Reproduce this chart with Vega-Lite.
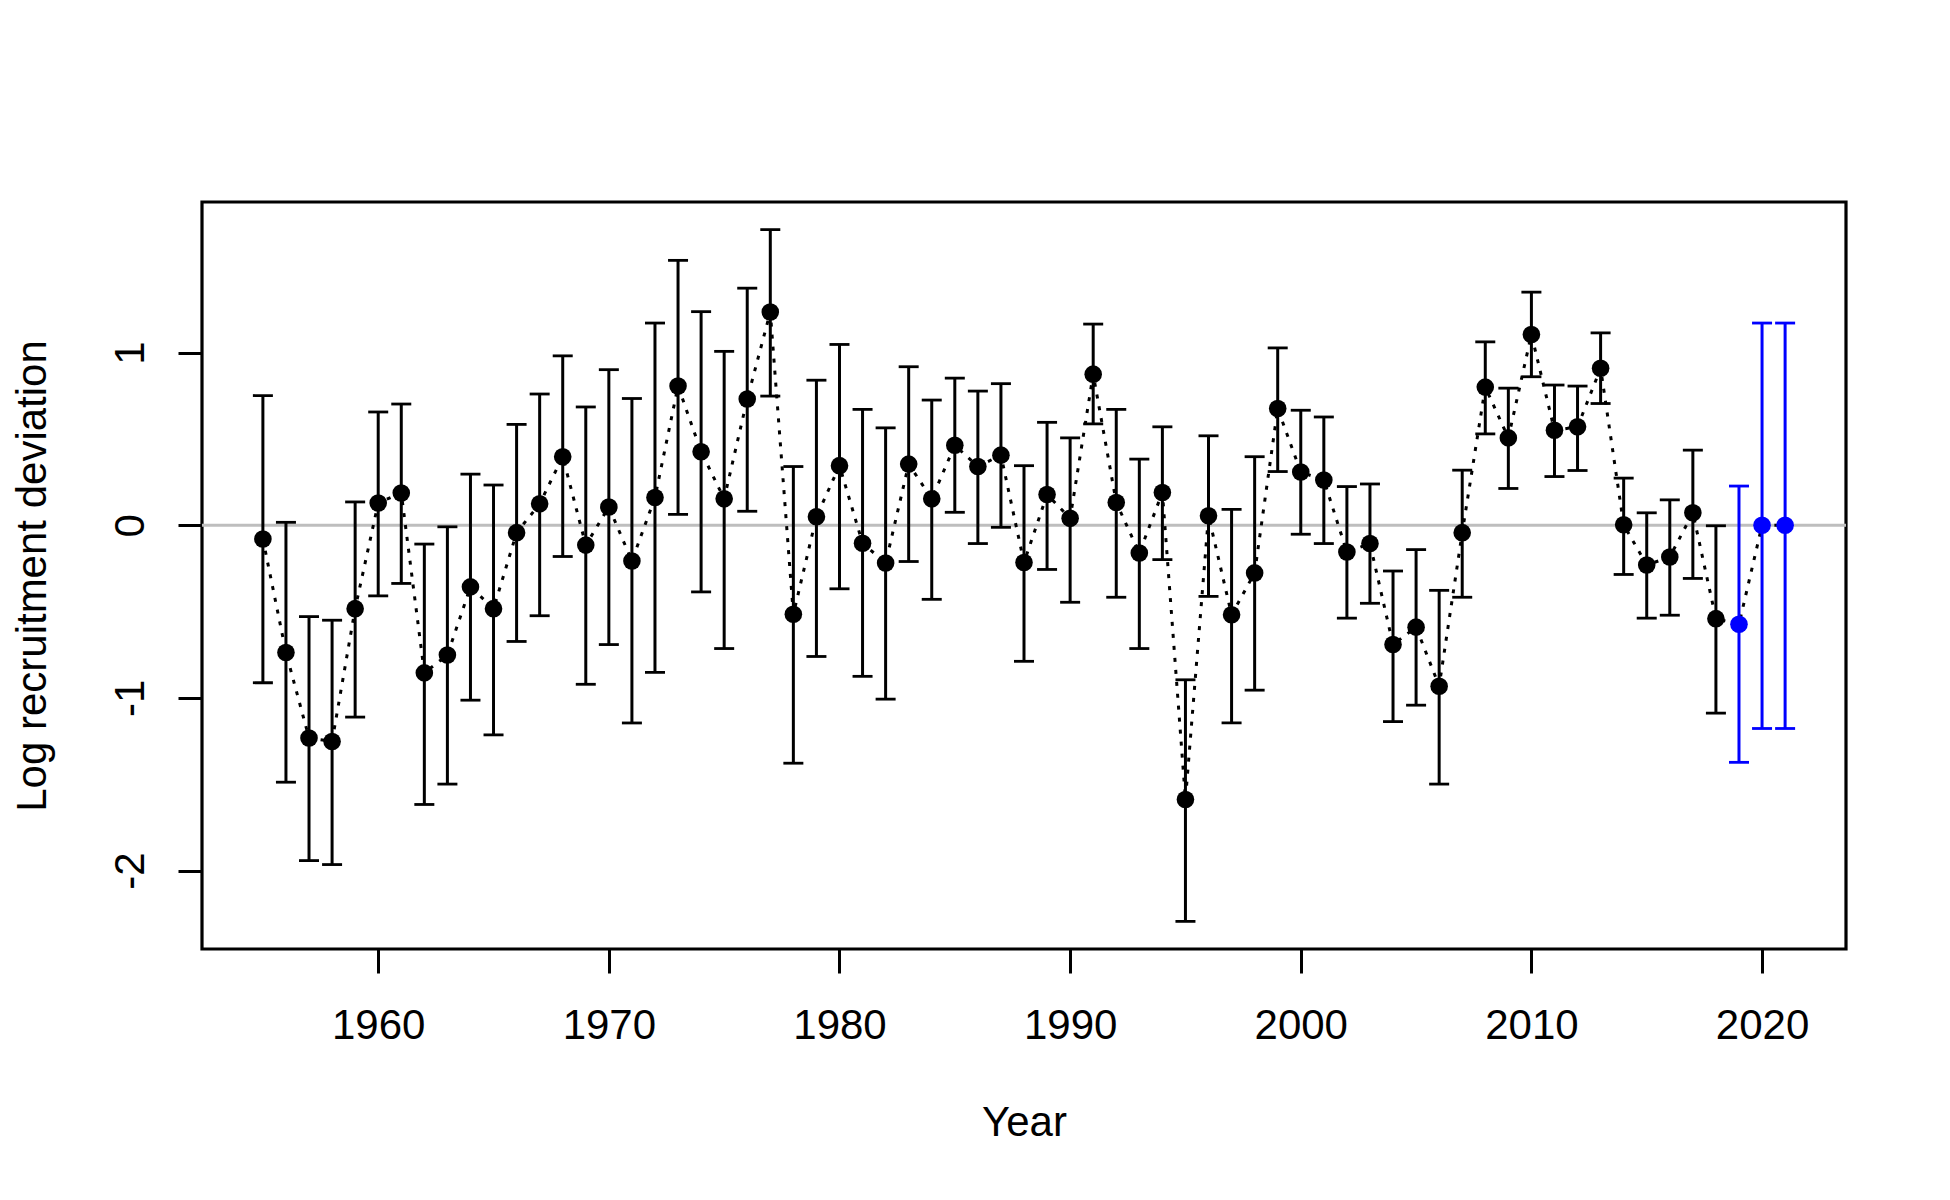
{
  "$schema": "https://vega.github.io/schema/vega-lite/v6.json",
  "width": 1644,
  "height": 747,
  "autosize": {"type": "none"},
  "padding": {"left": 202, "top": 202, "right": 104, "bottom": 251},
  "background": "white",
  "config": {
    "view": {"stroke": "black", "strokeWidth": 3.2},
    "font": "Liberation Sans",
    "axis": {
      "grid": false, "domain": false,
      "tickColor": "black", "tickWidth": 3, "tickSize": 24,
      "labelFont": "Liberation Sans", "labelFontSize": 42, "labelColor": "black",
      "titleFont": "Liberation Sans", "titleFontSize": 42, "titleFontWeight": "normal", "titleColor": "black"
    }
  },
  "data": {"values": [
    {"year": 1955, "value": -0.080, "lower": -0.912, "upper": 0.751, "group": "est"},
    {"year": 1956, "value": -0.737, "lower": -1.488, "upper": 0.017, "group": "est"},
    {"year": 1957, "value": -1.232, "lower": -1.942, "upper": -0.529, "group": "est"},
    {"year": 1958, "value": -1.252, "lower": -1.965, "upper": -0.550, "group": "est"},
    {"year": 1959, "value": -0.483, "lower": -1.111, "upper": 0.135, "group": "est"},
    {"year": 1960, "value": 0.129, "lower": -0.409, "upper": 0.656, "group": "est"},
    {"year": 1961, "value": 0.187, "lower": -0.337, "upper": 0.702, "group": "est"},
    {"year": 1962, "value": -0.855, "lower": -1.617, "upper": -0.109, "group": "est"},
    {"year": 1963, "value": -0.751, "lower": -1.499, "upper": -0.009, "group": "est"},
    {"year": 1964, "value": -0.357, "lower": -1.013, "upper": 0.296, "group": "est"},
    {"year": 1965, "value": -0.483, "lower": -1.214, "upper": 0.233, "group": "est"},
    {"year": 1966, "value": -0.043, "lower": -0.673, "upper": 0.584, "group": "est"},
    {"year": 1967, "value": 0.124, "lower": -0.524, "upper": 0.760, "group": "est"},
    {"year": 1968, "value": 0.397, "lower": -0.181, "upper": 0.981, "group": "est"},
    {"year": 1969, "value": -0.115, "lower": -0.921, "upper": 0.685, "group": "est"},
    {"year": 1970, "value": 0.106, "lower": -0.691, "upper": 0.901, "group": "est"},
    {"year": 1971, "value": -0.207, "lower": -1.145, "upper": 0.734, "group": "est"},
    {"year": 1972, "value": 0.161, "lower": -0.852, "upper": 1.171, "group": "est"},
    {"year": 1973, "value": 0.806, "lower": 0.063, "upper": 1.534, "group": "est"},
    {"year": 1974, "value": 0.426, "lower": -0.386, "upper": 1.237, "group": "est"},
    {"year": 1975, "value": 0.153, "lower": -0.714, "upper": 1.007, "group": "est"},
    {"year": 1976, "value": 0.731, "lower": 0.081, "upper": 1.373, "group": "est"},
    {"year": 1977, "value": 1.235, "lower": 0.748, "upper": 1.712, "group": "est"},
    {"year": 1978, "value": -0.515, "lower": -1.378, "upper": 0.340, "group": "est"},
    {"year": 1979, "value": 0.049, "lower": -0.760, "upper": 0.840, "group": "est"},
    {"year": 1980, "value": 0.345, "lower": -0.368, "upper": 1.047, "group": "est"},
    {"year": 1981, "value": -0.104, "lower": -0.875, "upper": 0.671, "group": "est"},
    {"year": 1982, "value": -0.219, "lower": -1.007, "upper": 0.564, "group": "est"},
    {"year": 1983, "value": 0.354, "lower": -0.210, "upper": 0.918, "group": "est"},
    {"year": 1984, "value": 0.153, "lower": -0.429, "upper": 0.725, "group": "est"},
    {"year": 1985, "value": 0.463, "lower": 0.075, "upper": 0.852, "group": "est"},
    {"year": 1986, "value": 0.340, "lower": -0.106, "upper": 0.777, "group": "est"},
    {"year": 1987, "value": 0.406, "lower": -0.012, "upper": 0.820, "group": "est"},
    {"year": 1988, "value": -0.216, "lower": -0.788, "upper": 0.345, "group": "est"},
    {"year": 1989, "value": 0.178, "lower": -0.256, "upper": 0.596, "group": "est"},
    {"year": 1990, "value": 0.040, "lower": -0.446, "upper": 0.506, "group": "est"},
    {"year": 1991, "value": 0.875, "lower": 0.587, "upper": 1.165, "group": "est"},
    {"year": 1992, "value": 0.132, "lower": -0.417, "upper": 0.671, "group": "est"},
    {"year": 1993, "value": -0.161, "lower": -0.714, "upper": 0.383, "group": "est"},
    {"year": 1994, "value": 0.190, "lower": -0.199, "upper": 0.570, "group": "est"},
    {"year": 1995, "value": -1.588, "lower": -2.294, "upper": -0.895, "group": "est"},
    {"year": 1996, "value": 0.055, "lower": -0.412, "upper": 0.518, "group": "est"},
    {"year": 1997, "value": -0.518, "lower": -1.145, "upper": 0.092, "group": "est"},
    {"year": 1998, "value": -0.276, "lower": -0.955, "upper": 0.397, "group": "est"},
    {"year": 1999, "value": 0.676, "lower": 0.311, "upper": 1.027, "group": "est"},
    {"year": 2000, "value": 0.308, "lower": -0.052, "upper": 0.666, "group": "est"},
    {"year": 2001, "value": 0.262, "lower": -0.106, "upper": 0.627, "group": "est"},
    {"year": 2002, "value": -0.155, "lower": -0.538, "upper": 0.224, "group": "est"},
    {"year": 2003, "value": -0.106, "lower": -0.452, "upper": 0.239, "group": "est"},
    {"year": 2004, "value": -0.691, "lower": -1.137, "upper": -0.265, "group": "est"},
    {"year": 2005, "value": -0.590, "lower": -1.042, "upper": -0.141, "group": "est"},
    {"year": 2006, "value": -0.932, "lower": -1.499, "upper": -0.377, "group": "est"},
    {"year": 2007, "value": -0.043, "lower": -0.417, "upper": 0.319, "group": "est"},
    {"year": 2008, "value": 0.800, "lower": 0.529, "upper": 1.062, "group": "est"},
    {"year": 2009, "value": 0.506, "lower": 0.213, "upper": 0.794, "group": "est"},
    {"year": 2010, "value": 1.105, "lower": 0.860, "upper": 1.350, "group": "est"},
    {"year": 2011, "value": 0.550, "lower": 0.282, "upper": 0.812, "group": "est"},
    {"year": 2012, "value": 0.570, "lower": 0.317, "upper": 0.806, "group": "est"},
    {"year": 2013, "value": 0.909, "lower": 0.705, "upper": 1.114, "group": "est"},
    {"year": 2014, "value": 0.003, "lower": -0.285, "upper": 0.273, "group": "est"},
    {"year": 2015, "value": -0.230, "lower": -0.538, "upper": 0.072, "group": "est"},
    {"year": 2016, "value": -0.184, "lower": -0.521, "upper": 0.147, "group": "est"},
    {"year": 2017, "value": 0.072, "lower": -0.308, "upper": 0.435, "group": "est"},
    {"year": 2018, "value": -0.541, "lower": -1.088, "upper": -0.003, "group": "est"},
    {"year": 2019, "value": -0.573, "lower": -1.373, "upper": 0.227, "group": "proj"},
    {"year": 2020, "value": 0.0, "lower": -1.177, "upper": 1.171, "group": "proj"},
    {"year": 2021, "value": 0.0, "lower": -1.177, "upper": 1.171, "group": "proj"}
  ]},
  "layer": [
    {
      "data": {"values": [{"ref": 0}]},
      "mark": {"type": "rule", "color": "#BEBEBE", "strokeWidth": 3},
      "encoding": {
        "y": {
          "field": "ref", "type": "quantitative",
          "scale": {"domain": [-2.454, 1.872], "nice": false, "zero": false},
          "title": "Log recruitment deviation",
          "axis": {
            "title": "Log recruitment deviation", "values": [-2, -1, 0, 1],
            "labelExpr": "'' + datum.value",
            "labelAngle": 270, "labelAlign": "center", "labelBaseline": "alphabetic", "labelPadding": 35,
            "labelFlush": false, "labelOverlap": false,
            "titleAngle": 270, "titleX": -157, "titleY": 373.5, "titleAlign": "center", "titleBaseline": "alphabetic"
          }
        }
      }
    },
    {
      "mark": {"type": "line", "color": "black", "strokeWidth": 3, "strokeDash": [4, 8]},
      "encoding": {
        "x": {
          "field": "year", "type": "quantitative",
          "scale": {"domain": [1952.36, 2023.64], "nice": false, "zero": false},
          "title": "Year",
          "axis": {
            "title": "Year", "values": [1960, 1970, 1980, 1990, 2000, 2010, 2020], "format": "d",
            "labelAlign": "center", "labelBaseline": "alphabetic", "labelPadding": 65,
            "labelFlush": false, "labelOverlap": false,
            "titleX": 822, "titleY": 186, "titleAlign": "center", "titleBaseline": "alphabetic"
          }
        },
        "y": {"field": "value", "type": "quantitative", "title": "Log recruitment deviation"}
      }
    },
    {
      "mark": {"type": "rule", "strokeWidth": 3},
      "encoding": {
        "x": {"field": "year", "type": "quantitative", "title": "Year"},
        "y": {"field": "lower", "type": "quantitative", "title": "Log recruitment deviation"},
        "y2": {"field": "upper"},
        "color": {"field": "group", "type": "nominal", "scale": {"domain": ["est", "proj"], "range": ["#000000", "#0000FF"]}, "legend": null}
      }
    },
    {
      "mark": {"type": "tick", "orient": "horizontal", "size": 20, "thickness": 2.8, "opacity": 1},
      "encoding": {
        "x": {"field": "year", "type": "quantitative", "title": "Year"},
        "y": {"field": "upper", "type": "quantitative", "title": "Log recruitment deviation"},
        "color": {"field": "group", "type": "nominal", "legend": null}
      }
    },
    {
      "mark": {"type": "tick", "orient": "horizontal", "size": 20, "thickness": 2.8, "opacity": 1},
      "encoding": {
        "x": {"field": "year", "type": "quantitative", "title": "Year"},
        "y": {"field": "lower", "type": "quantitative", "title": "Log recruitment deviation"},
        "color": {"field": "group", "type": "nominal", "legend": null}
      }
    },
    {
      "mark": {"type": "point", "shape": "circle", "filled": true, "size": 310, "opacity": 1},
      "encoding": {
        "x": {"field": "year", "type": "quantitative", "title": "Year"},
        "y": {"field": "value", "type": "quantitative", "title": "Log recruitment deviation"},
        "color": {"field": "group", "type": "nominal", "legend": null}
      }
    }
  ]
}
